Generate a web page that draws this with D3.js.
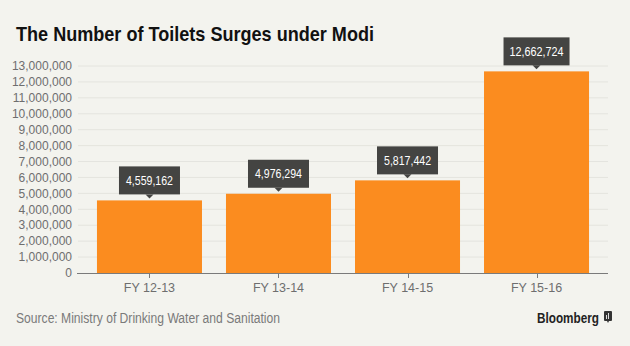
<!DOCTYPE html>
<html>
<head>
<meta charset="utf-8">
<script src="https://cdn.jsdelivr.net/npm/d3@7"></script>
<style>
  html, body { margin: 0; padding: 0; background: #f3f3ee; }
  svg { display: block; font-family: "Liberation Sans", Arial, sans-serif; }
</style>
</head>
<body>
<div id="chart"></div>
<script>
// data
const years = ["FY 12-13", "FY 13-14", "FY 14-15", "FY 15-16"]
const toilets = [4559162, 4976294, 5817442, 12662724]
const yTicks = [0, 1000000, 2000000, 3000000, 4000000, 5000000, 6000000,
  7000000, 8000000, 9000000, 10000000, 11000000, 12000000, 13000000]

const width = 630
const height = 346
const fmt = d3.format(",")

var svg = d3.select("#chart")
  .append("svg")
  .attr("width", width)
  .attr("height", height)

svg.append("rect").attr("width", width).attr("height", height).attr("fill", "#f3f3ee")

// title
svg.append("text")
  .attr("x", 16)
  .attr("y", 41)
  .attr("font-family", "'Liberation Sans Narrow', 'Liberation Sans', Arial, sans-serif")
  .attr("font-weight", "bold")
  .attr("font-size", 21)
  .attr("fill", "#111")
  .attr("textLength", 358)
  .attr("lengthAdjust", "spacingAndGlyphs")
  .text("The Number of Toilets Surges under Modi")

var x = d3.scaleBand()
  .domain(years)
  .range([78, 608])
  .paddingInner(0.186)
  .paddingOuter(0.147)

var y = d3.scaleLinear()
  .domain([0, 13000000])
  .range([273, 66])

// gridlines
svg.append("g")
  .selectAll("line")
  .data(yTicks.slice(1))
  .enter()
  .append("line")
  .attr("x1", 78).attr("x2", 608)
  .attr("y1", d => y(d)).attr("y2", d => y(d))
  .attr("stroke", "#e4e4de")
  .attr("stroke-width", 1)

// y labels
svg.append("g")
  .selectAll("text")
  .data(yTicks)
  .enter()
  .append("text")
  .attr("x", 72)
  .attr("y", d => y(d))
  .attr("dy", "0.35em")
  .attr("text-anchor", "end")
  .attr("font-size", 12)
  .attr("fill", "#6e6e6e")
  .text(d => fmt(d))

// bars
svg.append("g")
  .selectAll("rect")
  .data(toilets)
  .enter()
  .append("rect")
  .attr("x", (d, i) => x(years[i]))
  .attr("y", d => y(d))
  .attr("width", x.bandwidth())
  .attr("height", d => y(0) - y(d))
  .attr("fill", "#fb8c1f")

// baseline axis
svg.append("line")
  .attr("x1", 77).attr("x2", 608)
  .attr("y1", y(0) + 0.5).attr("y2", y(0) + 0.5)
  .attr("stroke", "#7a7a7a")
  .attr("stroke-width", 1)

var xAxis = svg.append("g")
xAxis.selectAll("line")
  .data(years)
  .enter()
  .append("line")
  .attr("x1", d => Math.round(x(d) + x.bandwidth() / 2) + 0.5)
  .attr("x2", d => Math.round(x(d) + x.bandwidth() / 2) + 0.5)
  .attr("y1", y(0)).attr("y2", y(0) + 5)
  .attr("stroke", "#7a7a7a")
xAxis.selectAll("text")
  .data(years)
  .enter()
  .append("text")
  .attr("x", d => x(d) + x.bandwidth() / 2)
  .attr("y", 292)
  .attr("text-anchor", "middle")
  .attr("font-size", 12.5)
  .attr("fill", "#6e6e6e")
  .text(d => d)

// value callouts
var callouts = svg.append("g")
  .selectAll("g")
  .data(toilets)
  .enter()
  .append("g")
  .attr("transform", (d, i) => "translate(" + (x(years[i]) + x.bandwidth() / 2) + "," + (y(d) - 6) + ")")

callouts.append("rect")
  .attr("x", d => d > 9999999 ? -33 : -30.5)
  .attr("y", -28)
  .attr("width", d => d > 9999999 ? 66 : 61)
  .attr("height", 28)
  .attr("fill", "#444442")
callouts.append("path")
  .attr("d", "M-4,0L4,0L0,4Z")
  .attr("fill", "#444442")
callouts.append("text")
  .attr("y", -9.5)
  .attr("text-anchor", "middle")
  .attr("font-size", 13)
  .attr("fill", "#fff")
  .attr("textLength", d => d > 9999999 ? 54 : 47)
  .attr("lengthAdjust", "spacingAndGlyphs")
  .text(d => fmt(d))

// footer
svg.append("text")
  .attr("x", 16)
  .attr("y", 323)
  .attr("font-family", "'Liberation Sans Narrow', 'Liberation Sans', Arial, sans-serif")
  .attr("font-size", 14)
  .attr("fill", "#7a7a7a")
  .attr("textLength", 264)
  .attr("lengthAdjust", "spacingAndGlyphs")
  .text("Source: Ministry of Drinking Water and Sanitation")

svg.append("text")
  .attr("x", 599)
  .attr("y", 323)
  .attr("text-anchor", "end")
  .attr("font-family", "'Liberation Sans Narrow', 'Liberation Sans', Arial, sans-serif")
  .attr("font-weight", "bold")
  .attr("font-size", 14)
  .attr("fill", "#222")
  .attr("textLength", 62)
  .attr("lengthAdjust", "spacingAndGlyphs")
  .text("Bloomberg")

// little bloomberg icon
var icon = svg.append("g").attr("transform", "translate(604,311)")
icon.append("rect").attr("width", 8).attr("height", 10).attr("rx", 1).attr("fill", "#333")
icon.append("path").attr("d", "M3,10L5,10L4,12Z").attr("fill", "#333")
icon.append("rect").attr("x", 2).attr("y", 4).attr("width", 1).attr("height", 4).attr("fill", "#ddd")
icon.append("rect").attr("x", 4).attr("y", 2).attr("width", 1).attr("height", 6).attr("fill", "#ddd")
</script>
</body>
</html>
